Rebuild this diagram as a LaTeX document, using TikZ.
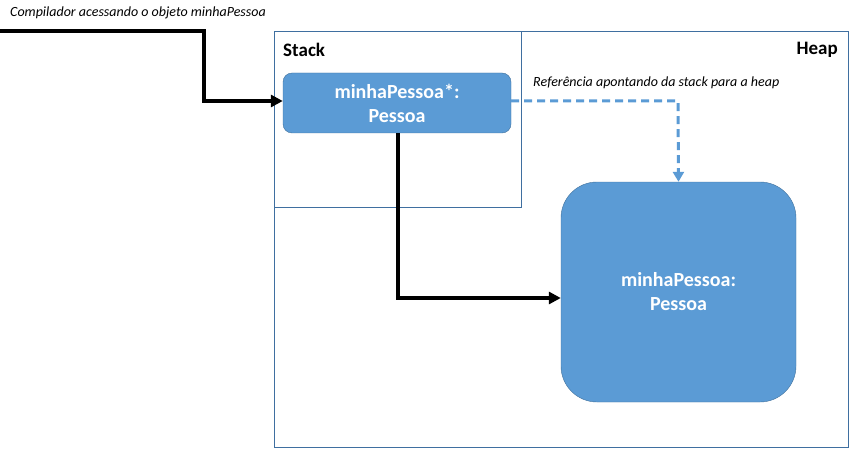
\documentclass[tikz,border=0pt]{standalone}
\usepackage{fontspec}
\setmainfont{Carlito}
\usetikzlibrary{arrows.meta}
\definecolor{fillb}{HTML}{5B9BD5}
\definecolor{edgeb}{HTML}{41719C}
\definecolor{frame}{HTML}{3F6FA0}
\begin{document}
\begin{tikzpicture}[x=1pt,y=-1pt,
  obj/.style={draw=edgeb,fill=fillb,text=white,font=\fontsize{20}{24}\selectfont\bfseries,align=center,inner sep=0pt},
  region/.style={draw=frame,line width=0.8pt},
  lbl/.style={font=\fontsize{14}{16}\selectfont\itshape,inner sep=0pt},
  title/.style={font=\fontsize{19}{22}\selectfont\bfseries,inner sep=0pt},
  ptr/.style={line width=3.5pt,-{Triangle[length=12pt,width=12pt]}},
  ref/.style={draw=fillb,line width=3pt,dash pattern=on 8pt off 5pt,-{Triangle[length=10pt,width=11pt]}}]
\useasboundingbox (0,0) rectangle (858,449);
\draw[region] (274,31) rectangle (848,447);
\draw[region] (274,31) rectangle (521,207);
\node[title,anchor=west] (st) at (283,50) {Stack};
\node[title,anchor=east] (hp) at (838,50) {Heap};
\node[obj,minimum width=228pt,minimum height=60pt,rounded corners=9pt] (p) at (397,103) {minhaPessoa*:\\Pessoa};
\node[obj,minimum width=235pt,minimum height=220pt,rounded corners=36pt] (h) at (678.5,292) {minhaPessoa:\\Pessoa};
\node[lbl,anchor=west] (r) at (533,83) {Referência apontando da stack para a heap};
\node[lbl,anchor=west] (c) at (10,13) {Compilador acessando o objeto minhaPessoa};
\coordinate (s) at (0,31);
\draw[ptr] (s) -- (204,31) -- (204,101) -- (p.west|-0,101);
\draw[ptr] (398,133) -- (398,298) -- (h.west|-0,298);
\draw[ref] (p.east|-0,101) -- (678,101) -- (h.north);
\end{tikzpicture}
\end{document}
